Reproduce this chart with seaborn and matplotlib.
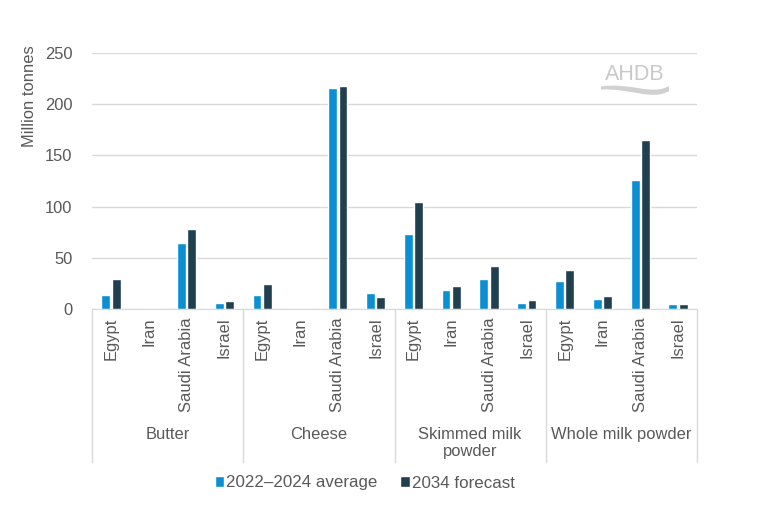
import matplotlib
matplotlib.use("Agg")
import matplotlib.pyplot as plt
import matplotlib.transforms as mtransforms
from matplotlib.path import Path
from matplotlib.patches import PathPatch
import seaborn as sns
import pandas as pd

products = ["Butter", "Cheese", "Skimmed milk\npowder", "Whole milk powder"]
countries = ["Egypt", "Iran", "Saudi Arabia", "Israel"]
series = ["2022\u20132024 average", "2034 forecast"]
avg_2022_2024 = [14, 0, 64, 6,
                 14, 0, 216, 16,
                 73, 19, 29.5, 6,
                 27.5, 10, 126, 5]
forecast_2034 = [29.5, 0, 78, 8,
                 24.5, 0, 218, 12,
                 104.5, 22.5, 42, 9,
                 38.5, 13, 165, 5]
yticks = [0, 50, 100, 150, 200, 250]
colors = ["#0A8FD3", "#203F4F"]

rows = []
keys = []
i = 0
for p in products:
    for c in countries:
        k = f"{p}|{c}"
        keys.append(k)
        rows.append({"key": k, "series": series[0], "value": avg_2022_2024[i]})
        rows.append({"key": k, "series": series[1], "value": forecast_2034[i]})
        i += 1
df = pd.DataFrame(rows)

sns.set_style("white")
plt.rcParams["font.family"] = ["Liberation Sans", "DejaVu Sans"]
txt = "#595959"
grid = "#D9D9D9"
fs = 11.9

fig = plt.figure(figsize=(7.63, 5.12), dpi=100)
ax = fig.add_axes([92 / 763, 1 - 309 / 512, 605 / 763, 256 / 512])
sns.barplot(data=df, x="key", y="value", hue="series", order=keys,
            hue_order=series, palette=colors, width=0.55, gap=0.15,
            saturation=1, ax=ax, legend=True)

ax.set_ylim(0, 250)
ax.set_xlim(-0.5, len(keys) - 0.5)
ax.set_yticks(yticks)
ax.set_yticklabels([str(v) for v in yticks], fontsize=fs, color=txt)
ax.yaxis.grid(True, color=grid, linewidth=1)
ax.set_axisbelow(True)
for s in ["top", "right", "left"]:
    ax.spines[s].set_visible(False)
ax.spines["bottom"].set_color(grid)
ax.tick_params(axis="both", length=0)
ax.tick_params(axis="y", pad=14)
ax.set_xlabel("")
ax.set_ylabel("")

ax.set_xticks(range(len(keys)))
ax.set_xticklabels([k.split("|")[1] for k in keys], rotation=90,
                   fontsize=fs, color=txt, ha="center", va="top")
ax.tick_params(axis="x", pad=6)

trans = mtransforms.blended_transform_factory(ax.transData, ax.transAxes)
sep_bottom = -(462 - 309) / 256
for b in [-0.5, 3.5, 7.5, 11.5, 15.5]:
    ax.plot([b, b], [0, sep_bottom], transform=trans, color=grid,
            linewidth=1, clip_on=False)
for gi, p in enumerate(products):
    ax.text(gi * 4 + 1.5, -(427 - 309) / 256, p, transform=trans,
            ha="center", va="top", fontsize=fs, color=txt,
            linespacing=1.15)

fig.text(30 / 763, 1 - 96 / 512, "Million tonnes", rotation=90,
         ha="center", va="center", fontsize=fs, color=txt)

leg = ax.legend(loc="center", bbox_to_anchor=(364.5 / 763, 1 - 483 / 512),
                bbox_transform=fig.transFigure, ncol=2, frameon=False,
                fontsize=12.2, handlelength=0.55, handleheight=0.6,
                handletextpad=0.12, columnspacing=1.35)
for t in leg.get_texts():
    t.set_color(txt)

# AHDB logo
fig.text(635 / 763, 1 - 75 / 512, "AHDB", ha="center", va="center",
         fontsize=15.5, color="#C9C9C9")
verts = [(601, 86.5), (630, 82), (652, 96), (669, 86), (669, 91),
         (652, 101), (630, 88), (601, 89.5), (601, 86.5)]
verts = [(x / 763, 1 - y / 512) for x, y in verts]
codes = [Path.MOVETO, Path.CURVE4, Path.CURVE4, Path.CURVE4, Path.LINETO,
         Path.CURVE4, Path.CURVE4, Path.CURVE4, Path.CLOSEPOLY]
fig.patches.append(PathPatch(Path(verts, codes), transform=fig.transFigure,
                             facecolor="#D0D0D0", edgecolor="none"))

fig.savefig("out.png", dpi=100)
